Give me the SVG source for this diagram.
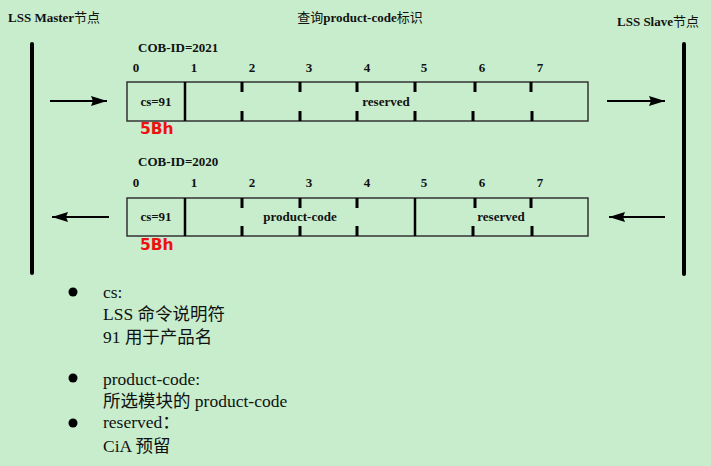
<svg xmlns="http://www.w3.org/2000/svg" width="711" height="466" viewBox="0 0 711 466">
<defs>
<style>
.b{font-family:"Liberation Serif","Noto Sans CJK SC",serif;font-weight:bold;font-size:13px;fill:#111}
.f{font-family:"Liberation Serif","Noto Sans CJK SC",serif;font-weight:bold;font-size:13px;fill:#111;text-anchor:middle}
.n{font-weight:normal}
.red{font-family:"DejaVu Sans","Liberation Sans",sans-serif;font-weight:600;font-size:15.5px;fill:#ee1111}
.t{font-family:"Liberation Serif","Noto Sans CJK SC",serif;font-size:17.5px;fill:#111}
.box{fill:none;stroke:#333;stroke-width:1.5}
.div{stroke:#000;stroke-width:2.5}
.tick{stroke:#000;stroke-width:3}
.bar{stroke:#000;stroke-width:4;stroke-linecap:round}
.arr{stroke:#000;stroke-width:2;fill:none}
</style>
<marker id="ah" viewBox="0 0 16 10" refX="16" refY="5" markerWidth="16" markerHeight="10" markerUnits="userSpaceOnUse" orient="auto">
<path d="M0,0 L16,5 L0,10 L2,5 Z" fill="#000"/>
</marker>
</defs>
<rect width="711" height="466" fill="#C7EDCC"/>
<text class="b" x="8" y="22">LSS Master<tspan class="n">节点</tspan></text>
<text class="f" x="360" y="22"><tspan class="n">查询</tspan>product-code<tspan class="n">标识</tspan></text>
<text class="b" x="617" y="26">LSS Slave<tspan class="n">节点</tspan></text>
<g id="master"><line class="bar" x1="32" y1="44" x2="32" y2="273"/></g>
<g id="slave"><line class="bar" x1="684" y1="44" x2="684" y2="274"/></g>
<g id="frame1">
<text class="b" x="138" y="52">COB-ID=2021</text>
<text class="f" x="136" y="72">0</text><text class="f" x="194" y="72">1</text><text class="f" x="252" y="72">2</text><text class="f" x="309" y="72">3</text><text class="f" x="367" y="72">4</text><text class="f" x="424" y="72">5</text><text class="f" x="482" y="72">6</text><text class="f" x="540" y="72">7</text>
<rect class="box" x="127" y="82" width="461" height="39"/>
<line class="div" x1="185" y1="82" x2="185" y2="121"/>
<path class="tick" d="M242,82v10M300,82v10M357,82v10M415,82v10M475,82v10M531,82v10M242,111v10M300,111v10M357,111v10M415,111v10M473,111v10M532,111v10"/>
<text class="f" x="156" y="106">cs=91</text>
<text class="f" x="386" y="106">reserved</text>
<text class="red" x="140" y="134">5Bh</text>
</g>
<g id="frame2">
<text class="b" x="138" y="166">COB-ID=2020</text>
<text class="f" x="136" y="187">0</text><text class="f" x="194" y="187">1</text><text class="f" x="252" y="187">2</text><text class="f" x="309" y="187">3</text><text class="f" x="367" y="187">4</text><text class="f" x="424" y="187">5</text><text class="f" x="482" y="187">6</text><text class="f" x="540" y="187">7</text>
<rect class="box" x="127" y="198" width="461" height="38"/>
<line class="div" x1="185" y1="198" x2="185" y2="236"/>
<line class="div" x1="415" y1="198" x2="415" y2="236"/>
<path class="tick" d="M242,198v10M300,198v10M357,198v10M475,198v10M531,198v10M242,226v10M300,226v10M357,226v10M473,226v10M532,226v10"/>
<text class="f" x="156" y="221">cs=91</text>
<text class="f" x="300" y="221">product-code</text>
<text class="f" x="501" y="221">reserved</text>
<text class="red" x="140" y="250">5Bh</text>
</g>
<g id="connectors">
<line class="arr" x1="50" y1="101" x2="107" y2="101" marker-end="url(#ah)"/>
<line class="arr" x1="607" y1="101" x2="665" y2="101" marker-end="url(#ah)"/>
<line class="arr" x1="109" y1="217" x2="52" y2="217" marker-end="url(#ah)"/>
<line class="arr" x1="665" y1="217" x2="609" y2="217" marker-end="url(#ah)"/>
</g>
<g id="notes">
<circle cx="73" cy="292" r="4.5" fill="#000"/>
<circle cx="73" cy="378" r="4.5" fill="#000"/>
<circle cx="73" cy="423" r="4.5" fill="#000"/>
<text class="t" x="103" y="298">cs:</text>
<text class="t" x="103" y="320">LSS  命令说明符</text>
<text class="t" x="103" y="343">91 用于产品名</text>
<text class="t" x="103" y="385">product-code:</text>
<text class="t" x="103" y="407">所选模块的 product-code</text>
<text class="t" x="103" y="428">reserved：</text>
<text class="t" x="103" y="452">CiA 预留</text>
</g>
</svg>
